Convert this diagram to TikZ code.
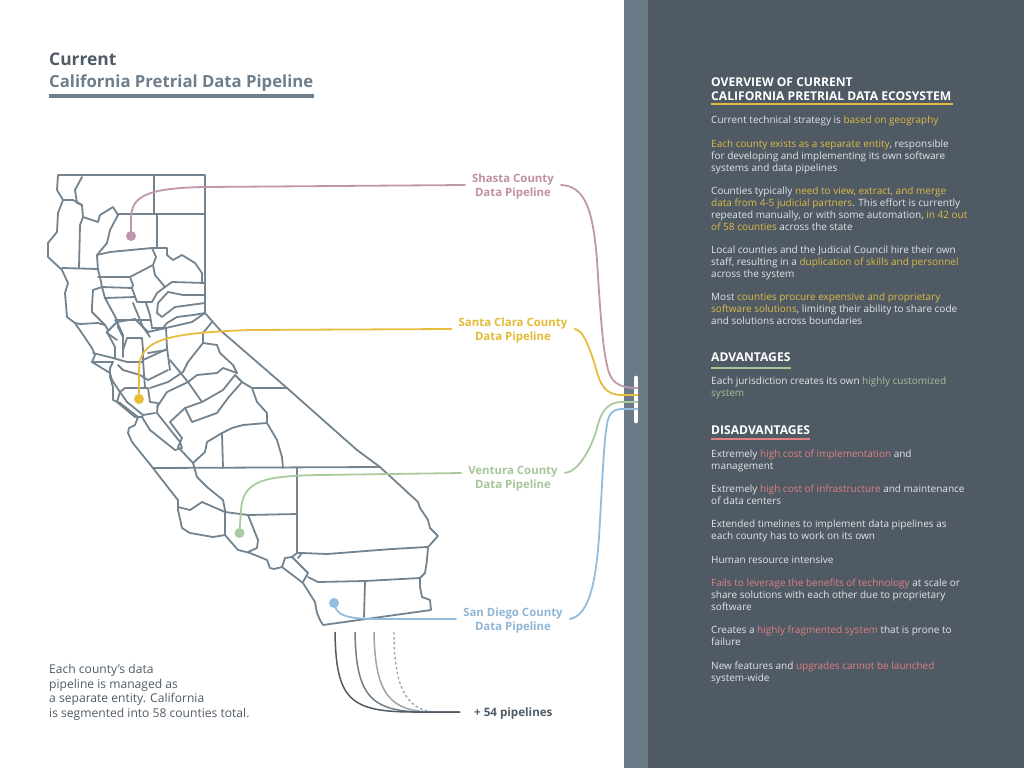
\documentclass[tikz,border=0pt]{standalone}
\usepackage{fontspec}
\setmainfont{Open Sans}
\definecolor{panelA}{HTML}{6B7A87}
\definecolor{panelB}{HTML}{4F5A65}
\definecolor{mapc}{HTML}{73838F}
\definecolor{titleA}{HTML}{4F5B66}
\definecolor{titleB}{HTML}{6F7E8B}
\definecolor{bodyc}{HTML}{E3E6E8}
\definecolor{hlgold}{HTML}{DDBB44}
\definecolor{hlgreen}{HTML}{A3C398}
\definecolor{hlred}{HTML}{E08082}
\definecolor{cpink}{HTML}{C097AA}
\definecolor{cgold}{HTML}{E8BD3E}
\definecolor{cgreen}{HTML}{A9CB9F}
\definecolor{cblue}{HTML}{94BCDC}
\definecolor{lpink}{HTML}{C08FA5}
\definecolor{lgold}{HTML}{E3BA35}
\definecolor{lgreen}{HTML}{A6C69B}
\definecolor{lblue}{HTML}{90B6D6}
\newcommand\hlg[1]{\textcolor{hlgold}{#1}}
\newcommand\hlv[1]{\textcolor{hlgreen}{#1}}
\newcommand\hlr[1]{\textcolor{hlred}{#1}}
\tikzset{
 mapline/.style={draw=mapc,line width=1.8pt,line join=round,line cap=round},
 bodytxt/.style={anchor=north west,inner sep=0pt,align=left,text=bodyc,font=\fontsize{10}{12}\selectfont},
 headtxt/.style={anchor=north west,inner sep=0pt,align=left,text=white,font=\fontsize{12.1}{14}\selectfont\bfseries},
 countylabel/.style={align=center,inner xsep=7pt,inner ysep=0pt,font=\fontsize{11.4}{14}\selectfont\bfseries},
 pipe/.style={line width=1.8pt,line cap=round},
 dot/.style={circle,inner sep=0pt,minimum size=10pt}
}
\begin{document}
\begin{tikzpicture}[x=1pt,y=-1pt]
\useasboundingbox (0,0) rectangle (1024,768);
\fill[white] (0,0) rectangle (1024,768);
\fill[panelA] (624,0) rectangle (648,768);
\fill[panelB] (648,0) rectangle (1024,768);
% title
\node[anchor=base west,inner sep=0pt,text=titleA,font=\fontsize{17.4}{20}\selectfont\bfseries] (t1) at (49,66) {Current};
\node[anchor=base west,inner sep=0pt,text=titleB,font=\fontsize{16.7}{20}\selectfont\bfseries] (t2) at (49,87) {California Pretrial Data Pipeline};
\fill[titleB] (49,94) rectangle (313.5,98);
% map outline
\draw[mapline] (58,175)--(205,175)--(205,313)--(220,330)--(287,388)--(340,435)--(357,450)--(380,467)--(418,502)--(420,508)--(428,520)--(430,528)--(438,536)--(428,547)--(427,560)--(425,573)--(420,578)--(420,587)--(422,597)--(430,600)--(431,610)--(323,625)--(320,620)--(317,613)--(315,602)--(303,583)--(282,567)--(274,569)--(270,568)--(267,560)--(250,553)--(238,550)--(225,535)--(213,537)--(190,533)--(182,528)--(178,510)--(178,500)--(170,490)--(153,468)--(132,442)--(128,433)--(129,428)--(135,425)--(138,417)--(120,403)--(113,400)--(113,387)--(110,377)--(110,368)--(113,362)--(92,362)--(95,355)--(92,348)--(75,323)--(67,317)--(65,293)--(68,283)--(62,270)--(48,257)--(48,243)--(57,232)--(58,213)--(63,200)--(57,190)--cycle;
% northern counties
\draw[mapline] (154,175)--(154,214);
\draw[mapline] (118,214)--(205,214);
\draw[mapline] (157,214)--(157,248);
\draw[mapline] (63,200)--(73,200)--(82,205);
\draw[mapline] (82,177)--(75,190)--(77,203)--(82,205)--(83,217)--(80,225)--(79,268);
\draw[mapline] (62,268)--(98,269);
\draw[mapline] (83,217)--(98,222)--(100,215)--(113,207)--(118,215)--(110,230)--(107,243)--(97,255)--(98,270)--(100,277)--(102,287);
\draw[mapline] (97,255)--(110,252)--(152,248)--(167,248)--(167,255)--(173,260)--(182,255)--(195,263)--(202,273)--(202,283);
\draw[mapline] (152,248)--(156,257)--(153,265)--(130,277);
\draw[mapline] (153,265)--(155,275)--(165,287);
\draw[mapline] (98,277)--(130,277)--(133,285)--(132,288)--(137,302)--(152,302)--(157,293)--(165,287)--(172,282)--(205,283);
\draw[mapline] (168,292)--(183,295)--(205,295);
\draw[mapline] (168,292)--(158,303)--(157,313)--(162,317)--(175,307)--(205,303);
\draw[mapline] (205,313)--(193,315)--(177,317)--(167,323)--(163,328)--(152,328);
\draw[mapline] (152,328)--(150,315)--(146,303);
\draw[mapline] (102,287)--(132,288);
\draw[mapline] (105,298)--(135,297);
\draw[mapline] (93,290)--(102,287)--(105,298)--(117,320)--(118,327)--(123,337);
\draw[mapline] (93,290)--(92,307)--(92,312)--(105,325)--(108,330)--(107,333)--(117,340);
\draw[mapline] (75,323)--(80,324)--(98,323)--(105,325);
\draw[mapline] (117,320)--(150,320);
\draw[mapline] (133,303)--(143,327)--(150,337);
% central counties
\draw[mapline] (115,320)--(117,322)--(135,319)--(148,332)--(166,328)--(192,322)--(205,313);
\draw[mapline] (107,332)--(117,322);
\draw[mapline] (107,332)--(115,347)--(115,358);
\draw[mapline] (117,322)--(123,335)--(123,357);
\draw[mapline] (123,350)--(127,338)--(142,338)--(143,350)--(143,360);
\draw[mapline] (93,353)--(113,358)--(127,362)--(143,362);
\draw[mapline] (92,362)--(110,373)--(112,380)--(120,392);
\draw[mapline] (166,328)--(167,348)--(170,370);
\draw[mapline] (143,360)--(167,349);
\draw[mapline] (118,365)--(123,370)--(140,375)--(148,380)--(168,370);
\draw[mapline] (120,392)--(125,388)--(148,388)--(150,402)--(158,403)--(157,413);
\draw[mapline] (120,392)--(127,402)--(143,415)--(142,417);
\draw[mapline] (143,415)--(155,413);
\draw[mapline] (120,392)--(117,402)--(135,417)--(142,417);
\draw[mapline] (142,417)--(150,430)--(160,438)--(175,450);
\draw[mapline] (157,413)--(180,442)--(182,448)--(175,450);
\draw[mapline] (157,407)--(167,392)--(188,382);
\draw[mapline] (170,360)--(188,382)--(202,402);
\draw[mapline] (188,382)--(197,375)--(217,373)--(223,368)--(237,373);
\draw[mapline] (202,402)--(223,390)--(235,375);
\draw[mapline] (235,375)--(242,382)--(228,398)--(217,413)--(192,422)--(185,408);
\draw[mapline] (202,402)--(185,408)--(170,422);
\draw[mapline] (203,343)--(217,345)--(220,353)--(233,365)--(237,373);
\draw[mapline] (203,343)--(188,362)--(183,372)--(168,382)--(150,388);
\draw[mapline] (203,343)--(203,333)--(212,322);
\draw[mapline] (148,353)--(167,350);
\draw[mapline] (143,360)--(145,388);
\draw[mapline] (242,382)--(252,388)--(287,388);
\draw[mapline] (252,388)--(257,402)--(267,413)--(267,423)--(243,425)--(232,428)--(222,433)--(207,442)--(205,452)--(193,463);
\draw[mapline] (222,433)--(223,468);
\draw[mapline] (267,423)--(277,440)--(282,457)--(283,468);
\draw[mapline] (170,422)--(182,438)--(178,447)--(193,463);
% southern counties
\draw[mapline] (153,468)--(380,467);
\draw[mapline] (193,463)--(197,477)--(207,487)--(223,500)--(225,510)--(225,535);
\draw[mapline] (178,507)--(190,510)--(202,502)--(225,512)--(248,515)--(297,514);
\draw[mapline] (297,468)--(297,553);
\draw[mapline] (248,515)--(258,540)--(257,548)--(248,552);
\draw[mapline] (297,553)--(292,557)--(285,558)--(282,567);
\draw[mapline] (292,557)--(308,573)--(303,582);
\draw[mapline] (297,553)--(302,553)--(327,554)--(392,549)--(427,547);
\draw[mapline] (302,553)--(298,558);
\draw[mapline] (308,577)--(318,582)--(365,581)--(420,578);
\draw[mapline] (365,581)--(364,617);
% hub bar
\draw[white,line width=3.6pt,line cap=round] (635.8,377.5)--(635.8,421.5);
\coordinate (h1) at (637.5,388);
\coordinate (h2) at (637.5,395);
\coordinate (h3) at (637.5,402);
\coordinate (h4) at (637.5,409);
% county labels
\node[countylabel,text=lpink] (lS) at (513,187) {Shasta County\\Data Pipeline};
\node[countylabel,text=lgold] (lC) at (513,331) {Santa Clara County\\Data Pipeline};
\node[countylabel,text=lgreen] (lV) at (513,479) {Ventura County\\Data Pipeline};
\node[countylabel,text=lblue] (lD) at (513,621) {San Diego County\\Data Pipeline};
\node[dot,fill=cpink] (dS) at (131,236) {};
\node[dot,fill=cgold] (dC) at (139,399) {};
\node[dot,fill=cgreen] (dV) at (239.5,533) {};
\node[dot,fill=cblue] (dD) at (334,603) {};
% connectors
\draw[pipe,cpink] (dS.center)--(131,220) .. controls (131,198) and (142,188) .. (205,187)--([yshift=2pt]lS.west);
\draw[pipe,cpink] ([yshift=2pt]lS.east) .. controls (585,186) and (593,210) .. (597,260) .. controls (600,310) and (603,350) .. (607,365) .. controls (610,382) and (618,388) .. (h1);
\draw[pipe,cgold] (dC.center)--(139,370) .. controls (139,340) and (165,333) .. (250,330)--([yshift=2pt]lC.west);
\draw[pipe,cgold] ([yshift=2pt]lC.east) .. controls (584,330) and (590,350) .. (595,365) .. controls (600,385) and (605,395) .. (622,395)--(h2);
\draw[pipe,cgreen] (dV.center)--(241,510) .. controls (243,480) and (265,476) .. (320,475)--([yshift=6pt]lV.west);
\draw[pipe,cgreen] ([yshift=6pt]lV.east) .. controls (578,472) and (590,450) .. (596,432) .. controls (600,415) and (605,402) .. (622,402)--(h3);
\draw[pipe,cblue] (dD.center) .. controls (336,614) and (343,618) .. (370,619)--([yshift=2pt]lD.west);
\draw[pipe,cblue] ([yshift=2pt]lD.east) .. controls (590,615) and (597,580) .. (600,520) .. controls (603,470) and (604,440) .. (607,425) .. controls (608,414) and (613,409) .. (622,409)--(h4);
% other pipelines
\node[anchor=base west,inner sep=0pt,text=titleA,font=\fontsize{11.6}{13}\selectfont\bfseries] (more) at (474,716) {+ 54 pipelines};
\coordinate (pe) at (460,712);
\coordinate (p1) at (335,632);
\coordinate (p2) at (355,632);
\coordinate (p3) at (374,632);
\coordinate (p4) at (394,632);
\draw[line width=1.4pt,color=titleB!70,dash pattern=on 2.5pt off 2.5pt] (p4) .. controls (394,685) and (405,710) .. (435,712);
\draw[line width=1.5pt,color=titleB!70] (p3) .. controls (375,695) and (390,712) .. (435,712)--(pe);
\draw[line width=1.5pt,color=titleB] (p2) .. controls (356,695) and (370,712) .. (425,712)--(pe);
\draw[line width=1.5pt,color=titleA] (p1) .. controls (336,700) and (350,712) .. (415,712)--(pe);
% left note
\node[anchor=north west,inner sep=0pt,align=left,text=titleA,font=\fontsize{12.1}{14.4}\selectfont] (note) at (49,664.5) {Each county's data\\pipeline is managed as\\a separate entity. California\\is segmented into 58 counties total.};
% right panel text
\node[headtxt] (h0) at (711,78) {OVERVIEW OF CURRENT\\CALIFORNIA PRETRIAL DATA ECOSYSTEM};
\fill[hlgold] (711,103) rectangle (953,105.2);
\node[bodytxt] (b1) at (711,116) {Current technical strategy is \hlg{based on geography}};
\node[bodytxt] (b2) at (711,140) {\hlg{Each county exists as a separate entity}, responsible\\for developing and implementing its own software\\systems and data pipelines};
\node[bodytxt] (b3) at (711,187) {Counties typically \hlg{need to view, extract, and merge}\\\hlg{data from 4-5 judicial partners}. This effort is currently\\repeated manually, or with some automation, \hlg{in 42 out}\\\hlg{of 58 counties} across the state};
\node[bodytxt] (b4) at (711,246) {Local counties and the Judicial Council hire their own\\staff, resulting in a \hlg{duplication of skills and personnel}\\across the system};
\node[bodytxt] (b5) at (711,293) {Most \hlg{counties procure expensive and proprietary}\\\hlg{software solutions}, limiting their ability to share code\\and solutions across boundaries};
\node[headtxt] (h5) at (711,353) {ADVANTAGES};
\fill[hlgreen] (711,366.5) rectangle (791,368.7);
\node[bodytxt] (b6) at (711,377) {Each jurisdiction creates its own \hlv{highly customized}\\\hlv{system}};
\node[headtxt] (h6) at (711,426) {DISADVANTAGES};
\fill[hlred] (711,438) rectangle (810,440.2);
\node[bodytxt] (b7) at (711,450) {Extremely \hlr{high cost of implementation} and\\management};
\node[bodytxt] (b8) at (711,485) {Extremely \hlr{high cost of infrastructure} and maintenance\\of data centers};
\node[bodytxt] (b9) at (711,520) {Extended timelines to implement data pipelines as\\each county has to work on its own};
\node[bodytxt] (b10) at (711,556) {Human resource intensive};
\node[bodytxt] (b11) at (711,579) {\hlr{Fails to leverage the benefits of technology} at scale or\\share solutions with each other due to proprietary\\software};
\node[bodytxt] (b12) at (711,626) {Creates a \hlr{highly fragmented system} that is prone to\\failure};
\node[bodytxt] (b13) at (711,662) {New features and \hlr{upgrades cannot be launched}\\system-wide};
\end{tikzpicture}
\end{document}
